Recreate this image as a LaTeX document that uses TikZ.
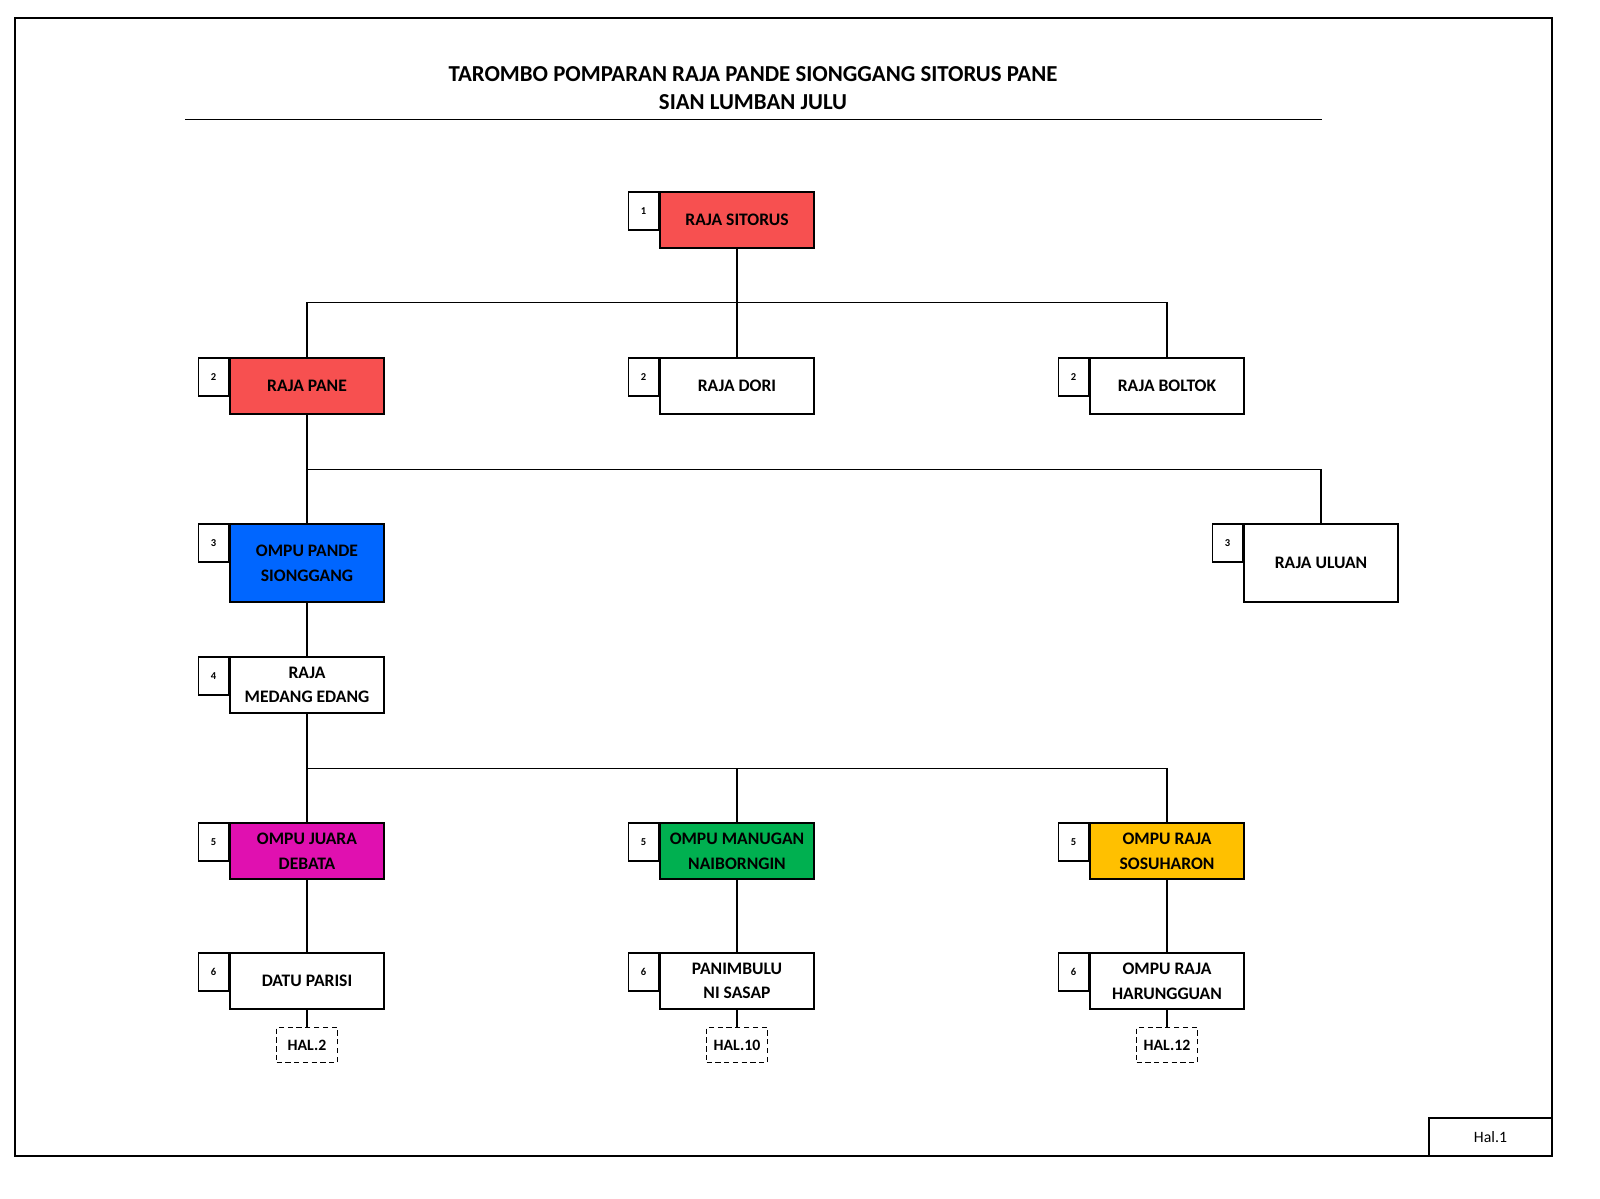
\documentclass[tikz,border=0pt]{standalone}
\usepackage{fontspec}
\setmainfont{Carlito}
\usetikzlibrary{positioning}
\definecolor{rajared}{HTML}{F75050}
\definecolor{pandeblue}{HTML}{0066FF}
\definecolor{juaramag}{HTML}{E010B0}
\definecolor{manugreen}{HTML}{00B050}
\definecolor{raja5yel}{HTML}{FFC000}
\begin{document}
\begin{tikzpicture}[
  x=0.02cm,y=-0.02cm,
  font=\bfseries\fontsize{10}{14}\selectfont,
  person/.style={draw,thick,minimum width=3.08cm,minimum height=1.12cm,align=center,inner sep=0pt},
  tall/.style={person,minimum height=1.56cm},
  num/.style={draw,thick,fill=white,minimum width=0.6cm,minimum height=0.76cm,anchor=north east,inner sep=0pt,font=\bfseries\fontsize{6}{7}\selectfont},
  hal/.style={draw,densely dashed,thin,fill=white,minimum width=1.22cm,minimum height=0.7cm,font=\bfseries\fontsize{9}{10}\selectfont},
  link/.style={thick}]

  % frame and title
  \useasboundingbox (0,0) rectangle (1600,1198);
  \draw[thick] (15,18) rectangle (1552,1156);
  \node[font=\bfseries\fontsize{13}{16}\selectfont,align=center] (title) at (753,88) {TAROMBO POMPARAN RAJA PANDE SIONGGANG SITORUS PANE\\SIAN LUMBAN JULU};
  \draw (185,119) -- (1322,119);
  \node[draw,thick,minimum width=2.46cm,minimum height=0.76cm,font=\fontsize{9}{10}\selectfont] (page) at (1490.5,1137) {Hal.1};

  % persons
  \node[person,fill=rajared] (sitorus) at (737,220) {RAJA SITORUS};
  \node[person,fill=rajared] (pane) at (307,386) {RAJA PANE};
  \node[person] (dori) at (737,386) {RAJA DORI};
  \node[person] (boltok) at (1167,386) {RAJA BOLTOK};
  \node[tall,fill=pandeblue] (pande) at (307,563) {OMPU PANDE\\SIONGGANG};
  \node[tall] (uluan) at (1321,563) {RAJA ULUAN};
  \node[person] (medang) at (307,685) {RAJA\\MEDANG EDANG};
  \node[person,fill=juaramag] (juara) at (307,851) {OMPU JUARA\\DEBATA};
  \node[person,fill=manugreen] (manugan) at (737,851) {OMPU MANUGAN\\NAIBORNGIN};
  \node[person,fill=raja5yel] (sosuharon) at (1167,851) {OMPU RAJA\\SOSUHARON};
  \node[person] (parisi) at (307,981) {DATU PARISI};
  \node[person] (panimbulu) at (737,981) {PANIMBULU\\NI SASAP};
  \node[person] (harungguan) at (1167,981) {OMPU RAJA\\HARUNGGUAN};

  % generation numbers
  \foreach \p/\n in {sitorus/1,pane/2,dori/2,boltok/2,pande/3,uluan/3,medang/4,
                     juara/5,manugan/5,sosuharon/5,parisi/6,panimbulu/6,harungguan/6}
    \node[num] (n\p) at (\p.north west) {\n};

  % page references
  \node[hal] (hal2) at (307,1045) {HAL.2};
  \node[hal] (hal10) at (737,1045) {HAL.10};
  \node[hal] (hal12) at (1167,1045) {HAL.12};

  % connectors
  \path (sitorus.south) ++(0,54) coordinate (bus1);
  \draw[link] (sitorus.south) -- (dori.north);
  \draw[link] (pane.north) |- (bus1) -| (boltok.north);
  \path (pane.south) ++(0,55) coordinate (bus2);
  \draw[link] (pane.south) -- (pande.north);
  \draw[link] (bus2) -| (uluan.north);
  \draw[link] (pande.south) -- (medang.north);
  \path (medang.south) ++(0,55) coordinate (bus3);
  \draw[link] (medang.south) -- (juara.north);
  \draw[link] (bus3) -| (sosuharon.north);
  \draw[link] (bus3 -| manugan.north) -- (manugan.north);
  \draw[link] (juara.south) -- (parisi.north);
  \draw[link] (manugan.south) -- (panimbulu.north);
  \draw[link] (sosuharon.south) -- (harungguan.north);
  \draw[link] (parisi.south) -- (hal2.north);
  \draw[link] (panimbulu.south) -- (hal10.north);
  \draw[link] (harungguan.south) -- (hal12.north);
\end{tikzpicture}
\end{document}
